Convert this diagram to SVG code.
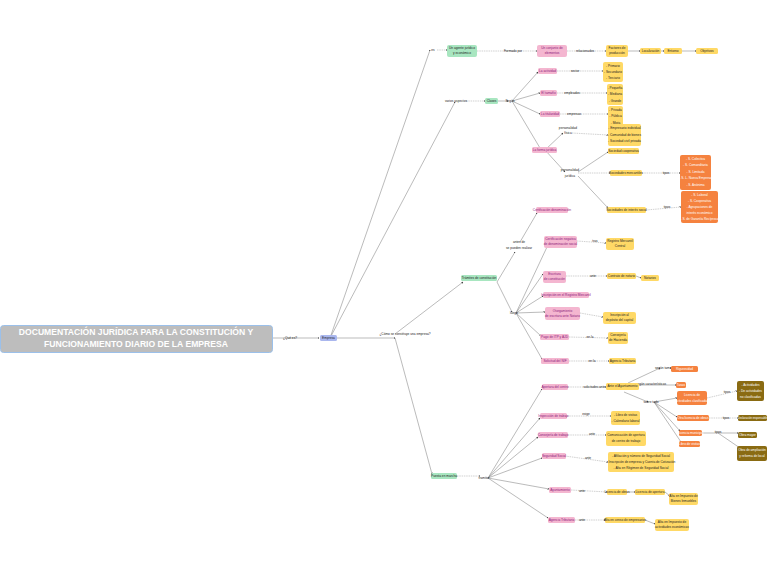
<svg xmlns="http://www.w3.org/2000/svg" width="768" height="578" viewBox="0 0 768 578">
<style>
text{font-family:"Liberation Sans",Arial,sans-serif;font-size:3.2px;text-anchor:middle;dominant-baseline:middle;fill:#222}
.g rect{fill:#a8e6c0}.p rect{fill:#f4b6d0}.p text{fill:#8a1a7a}.y rect{fill:#ffd966}.o rect{fill:#f5823f}.o text{fill:#fff}.b rect{fill:#8a6b12}.b text{fill:#fff}
.c path{fill:none;stroke:#666;stroke-width:0.45;marker-end:url(#a)}.c path.d{stroke-dasharray:1.5 0.8;stroke:#999}
</style>
<defs><marker id="a" viewBox="0 0 6 6" refX="5" refY="3" markerWidth="4" markerHeight="4" orient="auto"><path d="M0 0L6 3L0 6z" fill="#333"/></marker></defs>
<rect width="768" height="578" fill="#fff"/>
<g class="c">
<path d="M272 338H319"/>
<path d="M330 338L430 50"/><path d="M330 338L455 102"/><path d="M337 338H395"/><path d="M395 334L463 282"/><path d="M395 338L432 474"/>
<path class="d" d="M437 50H447"/><path class="d" d="M477 51H537"/><path class="d" d="M567 51H606"/><path d="M628 51H640"/><path d="M661 51H664"/><path d="M682 51H696"/>
<path class="d" d="M466 101H485"/><path d="M498 101H508"/>
<path d="M512 101L538 72"/><path d="M512 101L540 93"/><path d="M512 101L540 114"/><path d="M512 101L540 148"/>
<path class="d" d="M557 71H603"/><path class="d" d="M557 93H607"/><path class="d" d="M560 114H608"/>
<path d="M545 150L563 133"/><path class="d" d="M572 133L608 135"/>
<path d="M545 150L565 172"/><path d="M578 172L608 152"/><path class="d" d="M578 173H610"/><path d="M578 176L608 208"/>
<path class="d" d="M642 173H680"/><path class="d" d="M646 210L681 207"/>
<path d="M497 282L515 252"/><path d="M520 242L537 213"/>
<path d="M497 282L512 312"/>
<path d="M516 313L547 247"/><path d="M516 313L543 274"/><path d="M516 313L543 296"/><path d="M516 313L545 312"/><path d="M516 313L541 336"/><path d="M516 313L542 359"/>
<path class="d" d="M577 241L606 243"/><path class="d" d="M566 276H607"/><path d="M636 276L641 278"/><path class="d" d="M580 313L603 317"/><path class="d" d="M569 337L608 338"/><path class="d" d="M569 361H609"/>
<path class="d" d="M457 476H480"/>
<path d="M488 478L542 389"/><path d="M488 478L540 418"/><path d="M488 478L538 437"/><path d="M488 478L542 458"/><path d="M488 478L549 489"/><path d="M488 478L548 518"/>
<path class="d" d="M568 387H606"/><path d="M628 383L660 368"/><path class="d" d="M670 368H671"/><path d="M635 385H676"/><path d="M624 392L648 402"/>
<path d="M654 402L677 398"/><path d="M654 402L677 417"/><path d="M654 402L680 431"/><path d="M654 402L681 442"/>
<path class="d" d="M707 398L737 391"/><path class="d" d="M709 418H738"/><path d="M702 433H738"/><path d="M718 433L740 448"/>
<path class="d" d="M567 416H611"/><path class="d" d="M568 435H606"/><path class="d" d="M565 456L608 462"/>
<path class="d" d="M571 490L607 492"/><path d="M627 492H635"/><path d="M665 492L670 496"/>
<path class="d" d="M575 520H605"/><path d="M645 520L655 524"/>
</g>
<g id="title"><rect x="0.5" y="325.5" width="272" height="27" rx="3" fill="#bdbdbd" stroke="#9bc0ea"/><text x="136" y="333" style="font-size:8.6px;font-weight:bold;fill:#fff">DOCUMENTACIÓN JURÍDICA PARA LA CONSTITUCIÓN Y</text><text x="136" y="345" style="font-size:8.6px;font-weight:bold;fill:#fff">FUNCIONAMIENTO DIARIO DE LA EMPRESA</text></g>
<g id="labels">
<text x="290" y="338">¿Qué es?</text><text x="433" y="50">es</text><text x="513" y="51">Formado por</text><text x="585" y="51">relacionados</text>
<text x="456" y="101">varios aspectos</text><text x="510" y="101">Según</text><text x="575" y="71">sector</text><text x="572" y="93">empleados</text><text x="574" y="114">empresas</text>
<text x="568" y="128">personalidad</text><text x="568" y="133">física</text><text x="570" y="170">personalidad</text><text x="570" y="176">jurídica</text><text x="666" y="173">tipos</text><text x="667" y="207">tipos</text>
<text x="405" y="334">¿Cómo se constituye una empresa?</text><text x="519" y="242">antes de</text><text x="519" y="248">se pueden realizar</text><text x="514" y="313">luego</text>
<text x="595" y="241">tras</text><text x="593" y="276">ante</text><text x="590" y="337">en la</text><text x="592" y="361">en la</text>
<text x="484" y="478">tramitar</text><text x="596" y="387">solicitudes ante el</text><text x="665" y="368">según tamaño</text><text x="651" y="384">según características</text><text x="651" y="402">sobre todo</text>
<text x="727" y="392">tipos</text><text x="726" y="418">tipos</text><text x="718" y="432">tipos</text>
<text x="586" y="414">exige</text><text x="592" y="434">ante</text><text x="588" y="458">ante</text><text x="582" y="491">ante</text><text x="582" y="520">ante</text>
</g>
<g id="empresa"><rect x="320" y="335" width="17" height="6" rx="1.5" fill="#aab7ee"/><text x="328.5" y="338">Empresa</text></g>
<g id="agente" class="g"><rect x="447" y="45" width="30" height="12" rx="2"/><text x="462" y="48.5">Un agente jurídico</text><text x="462" y="53.5">y económico</text></g>
<g id="clases" class="g"><rect x="485" y="98" width="13" height="6" rx="1.5"/><text x="491.5" y="101">Clases</text></g>
<g id="tramites" class="g"><rect x="461" y="275" width="36" height="6" rx="1.5"/><text x="479" y="278">Trámites de constitución</text></g>
<g id="puesta" class="g"><rect x="431" y="473" width="26" height="6" rx="1.5"/><text x="444" y="476">Puesta en marcha</text></g>
<g id="conjunto" class="p"><rect x="537" y="45" width="30" height="12" rx="2"/><text x="552" y="48.5">Un conjunto de</text><text x="552" y="53.5">elementos</text></g>
<g id="factores" class="y"><rect x="606" y="45" width="22" height="12" rx="2"/><text x="617" y="48.5">Factores de</text><text x="617" y="53.5">producción</text></g>
<g id="loc" class="y"><rect x="640" y="48" width="21" height="6" rx="1.5"/><text x="650.5" y="51">Localización</text></g>
<g id="entorno" class="y"><rect x="664" y="48" width="18" height="6" rx="1.5"/><text x="673" y="51">Entorno</text></g>
<g id="objetivos" class="y"><rect x="696" y="48" width="22" height="6" rx="1.5"/><text x="707" y="51">Objetivos</text></g>
<g id="actividad" class="p"><rect x="538" y="68" width="19" height="6" rx="1.5"/><text x="547.5" y="71">La actividad</text></g>
<g id="tamano" class="p"><rect x="540" y="90" width="17" height="6" rx="1.5"/><text x="548.5" y="93">El tamaño</text></g>
<g id="titularidad" class="p"><rect x="540" y="111" width="20" height="6" rx="1.5"/><text x="550" y="114">La titularidad</text></g>
<g id="forma" class="p"><rect x="532" y="147" width="25" height="6" rx="1.5"/><text x="544.5" y="150">La forma jurídica</text></g>
<g id="sector" class="y"><rect x="603" y="62" width="20" height="20" rx="2"/><text x="613" y="66">- Primario</text><text x="613" y="72">- Secundario</text><text x="613" y="78">- Terciario</text></g>
<g id="empleados" class="y"><rect x="607" y="84" width="16" height="21" rx="2"/><text x="615" y="88">- Pequeña</text><text x="615" y="94.5">- Mediana</text><text x="615" y="101">- Grande</text></g>
<g id="emp" class="y"><rect x="608" y="106" width="15" height="21" rx="2"/><text x="615.5" y="110">- Privada</text><text x="615.5" y="116.5">- Pública</text><text x="615.5" y="123">- Mixta</text></g>
<g id="fisica" class="y"><rect x="608" y="124" width="33" height="22" rx="2"/><text x="624.5" y="128.5">- Empresario individual</text><text x="624.5" y="135">- Comunidad de bienes</text><text x="624.5" y="141.5">- Sociedad civil privada</text></g>
<g id="coop" class="y"><rect x="608" y="148" width="31" height="6" rx="1.5"/><text x="623.5" y="151">Sociedad cooperativa</text></g>
<g id="merc" class="y"><rect x="610" y="170" width="32" height="6" rx="1.5"/><text x="626" y="173">Sociedades mercantiles</text></g>
<g id="interes" class="y"><rect x="607" y="207" width="39" height="6" rx="1.5"/><text x="626.5" y="210">Sociedades de interés social</text></g>
<g id="tiposm" class="o"><rect x="680" y="155" width="31" height="35" rx="2"/><text x="695.5" y="159">- S. Colectiva</text><text x="695.5" y="165.5">- S. Comanditaria</text><text x="695.5" y="172">- S. Limitada</text><text x="695.5" y="178.5">- S. L. Nueva Empresa</text><text x="695.5" y="185">- S. Anónima</text></g>
<g id="tiposi" class="o"><rect x="681" y="191" width="37" height="32" rx="2"/><text x="699.5" y="195">- S. Laboral</text><text x="699.5" y="201">- S. Cooperativa</text><text x="699.5" y="207">- Agrupaciones de</text><text x="699.5" y="213">interés económico</text><text x="699.5" y="219">- S. de Garantía Recíproca</text></g>
<g id="certden" class="p"><rect x="536" y="207" width="32" height="6" rx="1.5"/><text x="552" y="210">Certificación denominación</text></g>
<g id="certneg" class="p"><rect x="544" y="236" width="33" height="12" rx="2"/><text x="560.5" y="239.5">Certificación negativa</text><text x="560.5" y="244.5">de denominación social</text></g>
<g id="rmc" class="y"><rect x="606" y="238" width="28" height="12" rx="2"/><text x="620" y="241.5">Registro Mercantil</text><text x="620" y="246.5">Central</text></g>
<g id="escritura" class="p"><rect x="543" y="271" width="23" height="12" rx="2"/><text x="554.5" y="274.5">Escritura</text><text x="554.5" y="279.5">de constitución</text></g>
<g id="contrato" class="y"><rect x="607" y="273" width="29" height="6" rx="1.5"/><text x="621.5" y="276">Contrato de notario</text></g>
<g id="notarios" class="y"><rect x="641" y="275" width="18" height="6" rx="1.5"/><text x="650" y="278">Notarios</text></g>
<g id="inscr" class="p"><rect x="543" y="292" width="46" height="6" rx="1.5"/><text x="566" y="295">Inscripción en el Registro Mercantil</text></g>
<g id="otorg" class="p"><rect x="545" y="307" width="35" height="13" rx="2"/><text x="562.5" y="311">Otorgamiento</text><text x="562.5" y="316.5">de escritura ante Notario</text></g>
<g id="deposito" class="y"><rect x="603" y="312" width="33" height="12" rx="2"/><text x="619.5" y="315.5">Inscripción al</text><text x="619.5" y="320.5">depósito del capital</text></g>
<g id="itp" class="p"><rect x="540" y="334" width="29" height="6" rx="1.5"/><text x="554.5" y="337">Pago de ITP y AJD</text></g>
<g id="hacienda" class="y"><rect x="608" y="332" width="20" height="12" rx="2"/><text x="618" y="335.5">Consejería</text><text x="618" y="340.5">de Hacienda</text></g>
<g id="nif" class="p"><rect x="541" y="358" width="28" height="6" rx="1.5"/><text x="555" y="361">Solicitud del NIF</text></g>
<g id="at1" class="y"><rect x="609" y="358" width="27" height="6" rx="1.5"/><text x="622.5" y="361">Agencia Tributaria</text></g>
<g id="apertura" class="p"><rect x="542" y="384" width="26" height="6" rx="1.5"/><text x="555" y="387">Apertura del centro</text></g>
<g id="ayto" class="y"><rect x="606" y="383" width="33" height="7" rx="1.5"/><text x="622.5" y="386.5">Ante el Ayuntamiento</text></g>
<g id="rig" class="o"><rect x="671" y="366" width="27" height="6" rx="1.5"/><text x="684.5" y="369">Rigurosidad</text></g>
<g id="tasas" class="o"><rect x="676" y="382" width="10" height="6" rx="1.5"/><text x="681" y="385">Tasas</text></g>
<g id="licact" class="o"><rect x="677" y="391" width="30" height="14" rx="2"/><text x="692" y="395.5">Licencia de</text><text x="692" y="401">actividades clasificadas</text></g>
<g id="licob" class="o"><rect x="677" y="415" width="32" height="6" rx="1.5"/><text x="693" y="418">Otra licencia de obras</text></g>
<g id="licmun" class="o"><rect x="679" y="430" width="23" height="6" rx="1.5"/><text x="690.5" y="433">Licencia municipal</text></g>
<g id="libro" class="o"><rect x="679" y="441" width="21" height="6" rx="1.5"/><text x="689.5" y="444">Libro de visitas</text></g>
<g id="b1" class="b"><rect x="737" y="381" width="27" height="20" rx="2"/><text x="750.5" y="385">- Actividades</text><text x="750.5" y="391">- De actividades</text><text x="750.5" y="397">no clasificadas</text></g>
<g id="b2" class="b"><rect x="738" y="415" width="29" height="6" rx="1.5"/><text x="752.5" y="418" style="font-size:2.7px">Declaración responsable</text></g>
<g id="b3" class="b"><rect x="738" y="432" width="19" height="6" rx="1.5"/><text x="747.5" y="435">Obra mayor</text></g>
<g id="b4" class="b"><rect x="737" y="446" width="30" height="15" rx="2"/><text x="752" y="450.5">Obra de ampliación</text><text x="752" y="456.5">y reforma de local</text></g>
<g id="inspeccion" class="p"><rect x="540" y="413" width="27" height="6" rx="1.5"/><text x="553.5" y="416">Inspección de trabajo</text></g>
<g id="libros" class="y"><rect x="611" y="411" width="29" height="14" rx="2"/><text x="625.5" y="415">- Libro de visitas</text><text x="625.5" y="421">- Calendario laboral</text></g>
<g id="consejeria" class="p"><rect x="538" y="432" width="30" height="6" rx="1.5"/><text x="553" y="435">Consejería de trabajo</text></g>
<g id="comunic" class="y"><rect x="606" y="431" width="40" height="15" rx="2"/><text x="626" y="435.5">Comunicación de apertura</text><text x="626" y="441.5">de centro de trabajo</text></g>
<g id="ss" class="p"><rect x="542" y="453" width="24" height="6" rx="1.5"/><text x="554" y="456">Seguridad Social</text></g>
<g id="ssl" class="y"><rect x="608" y="452" width="66" height="20" rx="2"/><text x="641" y="456">- Afiliación y número de Seguridad Social</text><text x="641" y="462">- Inscripción de empresa y Cuenta de Cotización</text><text x="641" y="468">- Alta en Régimen de Seguridad Social</text></g>
<g id="ayuntamiento" class="p"><rect x="549" y="487" width="22" height="6" rx="1.5"/><text x="560" y="490">Ayuntamiento</text></g>
<g id="licobras" class="y"><rect x="607" y="489" width="20" height="6" rx="1.5"/><text x="617" y="492">Licencia de obras</text></g>
<g id="licap" class="y"><rect x="635" y="489" width="30" height="6" rx="1.5"/><text x="650" y="492">Licencia de apertura</text></g>
<g id="ibi" class="y"><rect x="669" y="493" width="29" height="12" rx="2"/><text x="683.5" y="496.5">Alta en Impuesto de</text><text x="683.5" y="501.5">Bienes Inmuebles</text></g>
<g id="agencia" class="p"><rect x="548" y="517" width="27" height="6" rx="1.5"/><text x="561.5" y="520">Agencia Tributaria</text></g>
<g id="censo" class="y"><rect x="605" y="517" width="40" height="6" rx="1.5"/><text x="625" y="520">Alta en censo de empresarios</text></g>
<g id="iae" class="y"><rect x="655" y="519" width="34" height="12" rx="2"/><text x="672" y="522.5">Alta en Impuesto de</text><text x="672" y="527.5">actividades económicas</text></g>
</svg>
